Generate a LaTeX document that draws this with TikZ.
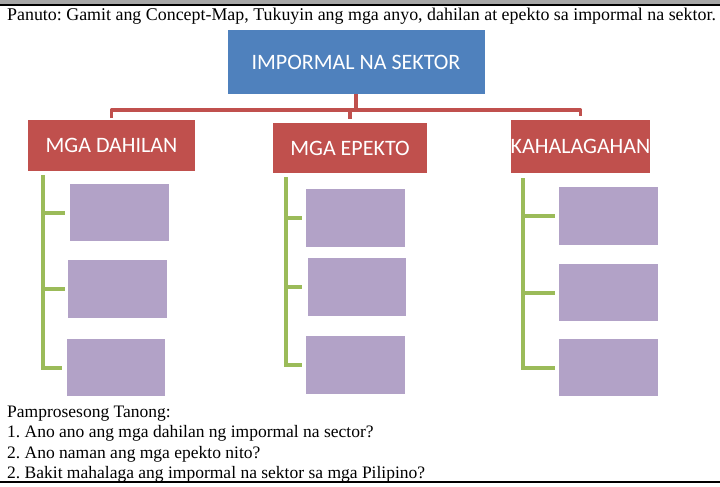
\documentclass[tikz,border=0pt]{standalone}
\usepackage{fontspec}
\setmainfont{Liberation Serif}
\newfontfamily\lblfont{Carlito}
\definecolor{hdrblue}{HTML}{4F81BD}
\definecolor{hdrred}{HTML}{C0504D}
\definecolor{brgreen}{HTML}{9BBB59}
\definecolor{boxpurple}{HTML}{B2A2C7}
\definecolor{bargray}{HTML}{A6A6A6}
\frenchspacing
\tikzset{
  mainbox/.style={fill=hdrblue, text=white, inner sep=0pt, font=\lblfont\fontsize{22}{26}\selectfont},
  catbox/.style={fill=hdrred, text=white, inner sep=0pt, font=\lblfont\fontsize{22}{26}\selectfont},
  emptybox/.style={fill=boxpurple, inner sep=0pt},
  redconn/.style={draw=hdrred, line width=3.5pt},
  greenconn/.style={draw=brgreen, line width=4pt},
  bodytext/.style={anchor=base west, inner sep=0pt, font=\fontsize{17.5}{20}\selectfont},
  titletext/.style={anchor=base west, inner sep=0pt, font=\fontsize{17.9}{20}\selectfont}
}
\begin{document}
\begin{tikzpicture}[x=1pt,y=-1pt]
\useasboundingbox (0,0) rectangle (720,487);
\fill[white] (0,0) rectangle (720,487);
% top frame
\fill[bargray] (0,0) rectangle (720,4);
\draw[black, line width=1.5pt] (0,5) -- (720,5);
\draw[black, line width=1.5pt] (0,482) -- (720,482);
% title
\node[titletext] (title) at (7,21) {Panuto: Gamit ang Concept-Map, Tukuyin ang mga anyo, dahilan at epekto sa impormal na sektor.};
% main box
\node[mainbox, minimum width=257pt, minimum height=64pt] (main) at (356,62) {IMPORMAL NA SEKTOR};
% category boxes
\node[catbox, minimum width=167pt, minimum height=51pt] (dah) at (111.5,145.5) {MGA DAHILAN};
\node[catbox, minimum width=154pt, minimum height=50pt] (epe) at (350,148) {MGA EPEKTO};
\node[catbox, minimum width=139pt, minimum height=53pt] (kah) at (580.5,146.5) {KAHALAGAHAN};
% red connectors
\coordinate (bus) at (0,110);
\draw[redconn] (main.south) -- (main.south |- bus);
\draw[redconn, line join=round] (dah.north |- 0,118) -- (dah.north |- bus) -- (kah.north |- bus) -- (kah.north |- 0,116);
\draw[redconn] (epe.north |- bus) -- (epe.north |- 0,119);
% purple boxes
\node[emptybox, minimum width=99pt, minimum height=57pt] (a1) at (119.5,212.5) {};
\node[emptybox, minimum width=99pt, minimum height=58pt] (a2) at (117.5,289) {};
\node[emptybox, minimum width=98pt, minimum height=57pt] (a3) at (116,367.5) {};
\node[emptybox, minimum width=99pt, minimum height=58pt] (b1) at (355.5,218) {};
\node[emptybox, minimum width=98pt, minimum height=58pt] (b2) at (357,287) {};
\node[emptybox, minimum width=99pt, minimum height=58pt] (b3) at (355.5,365) {};
\node[emptybox, minimum width=99pt, minimum height=58pt] (c1) at (608.5,216) {};
\node[emptybox, minimum width=99pt, minimum height=57pt] (c2) at (608.5,292.5) {};
\node[emptybox, minimum width=99pt, minimum height=57pt] (c3) at (608.5,367.5) {};
% green brackets
\coordinate (gA) at (43,175);
\coordinate (gB) at (286,177);
\coordinate (gC) at (523,178);
\draw[greenconn] (gA) |- ([xshift=-5pt]a3.west);
\draw[greenconn] (gA |- a1.west) -- ([xshift=-5pt]a1.west);
\draw[greenconn] (gA |- a2.west) -- ([xshift=-3pt]a2.west);
\draw[greenconn] (gB) |- ([xshift=-4pt]b3.west);
\draw[greenconn] (gB |- b1.west) -- ([xshift=-4pt]b1.west);
\draw[greenconn] (gB |- b2.west) -- ([xshift=-6pt]b2.west);
\draw[greenconn] (gC) |- ([xshift=-4pt]c3.west);
\draw[greenconn] (gC |- c1.west) -- ([xshift=-4pt]c1.west);
\draw[greenconn] (gC |- c2.west) -- ([xshift=-4pt]c2.west);
% questions
\node[bodytext] (q0) at (7,417) {Pamprosesong Tanong:};
\node[bodytext] (q1) at (7,437.5) {1. Ano ano ang mga dahilan ng impormal na sector?};
\node[bodytext] (q2) at (7,458) {2. Ano naman ang mga epekto nito?};
\node[bodytext] (q3) at (7,478) {2. Bakit mahalaga ang impormal na sektor sa mga Pilipino?};
\end{tikzpicture}
\end{document}
